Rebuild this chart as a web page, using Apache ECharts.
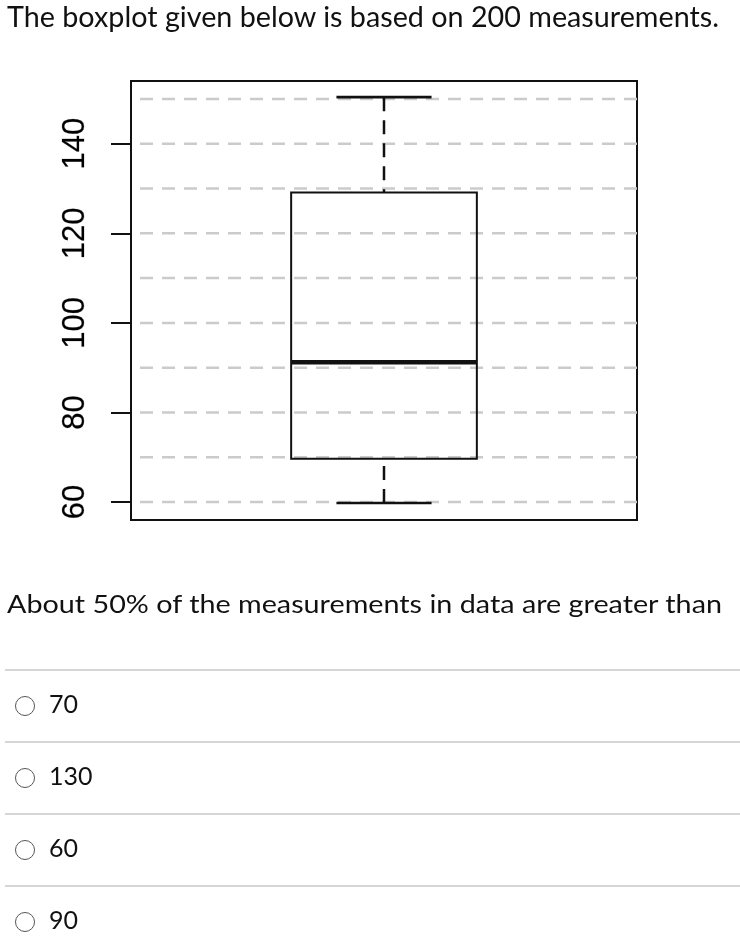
<!DOCTYPE html>
<html>
<head>
<meta charset="utf-8">
<script src="https://cdn.jsdelivr.net/npm/echarts@6/dist/echarts.min.js"></script>
<style>
  html, body { margin:0; padding:0; background:#fff; width:740px; height:938px; overflow:hidden; }
  #chart { position:absolute; left:0; top:0; width:740px; height:938px; }
  .txt { position:absolute; font-family: Lato, "Noto Sans", sans-serif; color:#111; line-height:1; white-space:nowrap; transform-origin:left top; z-index:2; }
  .sep { position:absolute; left:5px; right:0; height:2px; background:#d6d6d6; z-index:2; }
  .radio { position:absolute; width:18px; height:18px; border:1.6px solid #555; border-radius:50%; z-index:2; }
</style>
</head>
<body>
<div id="chart"></div>
<div id="title" class="txt" style="left:7px; top:1px; font-size:29px;">The boxplot given below is based on 200 measurements.</div>
<div id="question" class="txt" style="left:7px; top:591px; font-size:25px;">About 50% of the measurements in data are greater than</div>
<div id="opts"></div>
<script>
// ---- data ----
const categories = ['measurements'];
const boxStats = [59.8, 69.7, 91.2, 129.1, 150.4]; // min, Q1, median, Q3, max
const tickLabels = [60, 80, 100, 120, 140];
const gridValues = [60, 70, 80, 90, 100, 110, 120, 130, 140, 150];
const yMin = 56;
const yMax = 154;
const answerOptions = ['70', '130', '60', '90'];

// ---- page text (answer choices) ----
const optsEl = document.getElementById('opts');
answerOptions.forEach(function (label, i) {
  const sepY = 669 + i * 72;
  const sep = document.createElement('div');
  sep.className = 'sep';
  sep.style.top = sepY + 'px';
  optsEl.appendChild(sep);
  const r = document.createElement('div');
  r.className = 'radio';
  r.style.left = '15px';
  r.style.top = (sepY + 27) + 'px';
  optsEl.appendChild(r);
  const t = document.createElement('div');
  t.className = 'txt';
  t.style.left = '49px';
  t.style.top = (sepY + 22) + 'px';
  t.style.fontSize = '25px';
  t.textContent = label;
  optsEl.appendChild(t);
});

function fitWidth(id, target) {
  const el = document.getElementById(id);
  const w = el.getBoundingClientRect().width;
  if (w > 0) el.style.transform = 'scaleX(' + (target / w) + ')';
}
fitWidth('title', 712);
fitWidth('question', 715);

// ---- chart ----
const chart = echarts.init(document.getElementById('chart'), null, { renderer: 'canvas' });
const BOX_FRAC = 0.367;
const CAP_FRAC = 0.188;

chart.setOption({
  animation: false,
  backgroundColor: 'transparent',
  grid: {
    left: 131, right: 103, top: 81, bottom: 418,
    show: true, borderColor: '#111', borderWidth: 2, backgroundColor: 'transparent'
  },
  xAxis: {
    type: 'category',
    data: categories,
    axisLine: { show: false },
    axisTick: { show: false },
    axisLabel: { show: false },
    splitLine: { show: false }
  },
  yAxis: {
    type: 'value',
    min: yMin,
    max: yMax,
    axisLine: { show: true, lineStyle: { color: '#111', width: 2 } },
    splitLine: { show: false },
    axisTick: {
      show: true, inside: false, length: 20,
      customValues: tickLabels,
      lineStyle: { color: '#111', width: 2 }
    },
    axisLabel: {
      customValues: tickLabels,
      rotate: 90,
      margin: 40,
      fontSize: 31,
      fontFamily: '"Liberation Sans", Arial, sans-serif',
      color: '#000',
      textBorderColor: 'rgba(0,0,0,0.35)',
      textBorderWidth: 0.6
    }
  },
  series: [
    {
      type: 'custom',
      name: 'grid',
      silent: true,
      z: 1,
      data: gridValues.map(function (v) { return [0, v]; }),
      renderItem: function (params, api) {
        const c = params.coordSys;
        const y = api.coord([0, api.value(1)])[1];
        return {
          type: 'line',
          shape: { x1: c.x + 9, y1: y, x2: c.x + c.width, y2: y },
          style: { stroke: '#cbcbcb', lineWidth: 2.5, lineDash: [13, 9] }
        };
      }
    },
    {
      type: 'custom',
      name: 'box',
      silent: true,
      z: 2,
      data: [[0].concat(boxStats)],
      renderItem: function (params, api) {
        const idx = api.value(0);
        const xc = api.coord([idx, api.value(3)])[0];
        const yv = function (i) { return api.coord([idx, api.value(i)])[1]; };
        const band = api.size([1, 0])[0];
        const bh = band * BOX_FRAC / 2;
        const ch = band * CAP_FRAC / 2;
        const yMinP = yv(1), yQ1 = yv(2), yMed = yv(3), yQ3 = yv(4), yMaxP = yv(5);
        const black = '#111';
        return {
          type: 'group',
          children: [
            { type: 'line', shape: { x1: xc, y1: yMaxP, x2: xc, y2: yQ3 },
              style: { stroke: black, lineWidth: 2.5, lineDash: [14, 9] } },
            { type: 'line', shape: { x1: xc, y1: yMinP, x2: xc, y2: yQ1 },
              style: { stroke: black, lineWidth: 2.5, lineDash: [14, 9] } },
            { type: 'line', shape: { x1: xc - ch, y1: yMaxP, x2: xc + ch, y2: yMaxP },
              style: { stroke: black, lineWidth: 2.6 } },
            { type: 'line', shape: { x1: xc - ch, y1: yMinP, x2: xc + ch, y2: yMinP },
              style: { stroke: black, lineWidth: 2.6 } },
            { type: 'rect', shape: { x: xc - bh, y: yQ3, width: 2 * bh, height: yQ1 - yQ3 },
              style: { stroke: black, lineWidth: 2, fill: 'none' } },
            { type: 'line', shape: { x1: xc - bh, y1: yMed, x2: xc + bh, y2: yMed },
              style: { stroke: black, lineWidth: 4.5 } }
          ]
        };
      }
    }
  ]
});
</script>
</body>
</html>
